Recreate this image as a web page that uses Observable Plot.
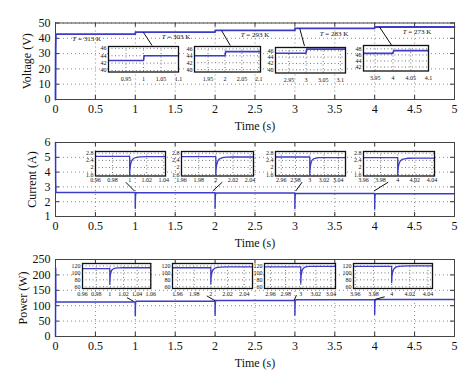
<!DOCTYPE html>
<html><head><meta charset="utf-8">
<script src="https://cdn.jsdelivr.net/npm/d3@7"></script>
<script src="https://cdn.jsdelivr.net/npm/@observablehq/plot@0.6"></script>
<style>
body{margin:0;background:#fff;}
#wrap{position:relative;width:474px;height:386px;overflow:hidden;background:#fff;font-family:"Liberation Serif",serif;}
#wrap svg{position:absolute;overflow:visible;background:none;}
#wrap svg, #wrap svg text{font-family:"Liberation Serif","Times New Roman",serif !important;}
</style></head><body><div id="wrap"></div>
<script>
// ---------- data ----------
const xTicksMain = [0, 0.5, 1, 1.5, 2, 2.5, 3, 3.5, 4, 4.5, 5];
const voltageTicks = [0, 10, 20, 30, 40, 50];
const currentTicks = [1, 2, 3, 4, 5, 6];
const powerTicks = [0, 50, 100, 150, 200, 250];

const stepTimes = [1, 2, 3, 4];
const temperatures = ["313", "303", "293", "283", "273"];
const tempLabelT = [0.39, 1.51, 2.5, 3.49, 4.53];
const tempLabelV = [39.7, 41.2, 42.0, 43.3, 44.6];

const voltageLevels = [42.7, 44.0, 45.2, 46.5, 47.4];
const currentLevels = [2.63, 2.61, 2.59, 2.56, 2.53];
const powerLevels = [112.3, 114.8, 117.1, 119.0, 119.9];

const startT = [0, 0.002, 0.005];
const voltageStart = [0, 30, 42.7];
const currentStart = [6.0, 3.5, 2.63];
const powerStart = [0, 222, 112.3];

const voltageStepOffsets = [0.002];
const voltageSteps = [[44.0], [45.2], [46.5], [47.4]];

const dipOffsets = [0, 0.0003, 0.001, 0.002, 0.003, 0.005, 0.008, 0.012, 0.02];
const currentDips = [
  [1.55, 1.86, 2.15, 2.33, 2.43, 2.52, 2.57, 2.60, 2.61],
  [1.55, 1.85, 2.14, 2.32, 2.42, 2.50, 2.55, 2.58, 2.59],
  [1.54, 1.84, 2.12, 2.30, 2.40, 2.48, 2.52, 2.55, 2.56],
  [1.50, 1.82, 2.10, 2.27, 2.37, 2.45, 2.49, 2.52, 2.53]
];
const powerDips = [
  [67, 84, 96, 104, 108, 111.5, 113.5, 114.4, 114.8],
  [69, 86, 98, 106, 110, 114, 116, 116.8, 117.1],
  [70, 88, 100, 108, 112, 116, 118, 118.7, 119.0],
  [72, 89, 101, 109, 113, 117, 119, 119.6, 119.9]
];

// connectors (main-data units)
const voltLinkT1 = [1.1, 2.08, 3.06, 4.06];
const voltLinkV1 = [44.0, 45.2, 46.5, 47.4];
const voltLinkT2 = [1.21, 2.19, 3.12, 4.21];
const voltLinkV2 = [35.3, 35.3, 35.0, 35.6];
const currLinkT1 = [0.99, 1.97, 3.01, 3.99];
const currLinkI1 = [2.72, 2.72, 2.72, 2.72];
const currLinkT2 = [0.88, 2.09, 3.09, 4.17];
const currLinkI2 = [3.32, 3.32, 3.32, 3.32];
const powLinkT1 = [0.98, 2.0, 2.99, 4.0];
const powLinkP1 = [114, 116, 118, 120];
const powLinkT2 = [0.896, 1.896, 3.02, 4.125];
const powLinkP2 = [126, 132, 134, 129];

// insets
const voltInsetX = [[0.9, 1.1], [1.91, 2.105], [2.911, 3.115], [3.917, 4.1]];
const voltInsetY = [[39.6, 46.5], [39.3, 46.7], [39, 47], [40.7, 49.1]];
const voltInsetXTicks = [[0.95, 1, 1.05, 1.1], [1.95, 2, 2.05, 2.1], [2.95, 3, 3.05, 3.1], [3.95, 4, 4.05, 4.1]];
const voltInsetYTicks = [[40, 42, 44, 46], [40, 42, 44, 46], [40, 42, 44, 46], [42, 44, 46, 48]];

const currInsetX = [[0.96, 1.042], [1.96, 2.044], [2.952, 3.05], [3.96, 4.043]];
const currInsetY = [1.52, 2.9];
const currInsetXTicks = [[0.96, 0.98, 1, 1.02, 1.04], [1.96, 1.98, 2, 2.02, 2.04], [2.96, 2.98, 3, 3.02, 3.04], [3.96, 3.98, 4, 4.02, 4.04]];
const currInsetYTicks = [1.6, 2, 2.4, 2.8];

const powInsetX = [[0.96, 1.06], [1.954, 2.05], [2.952, 3.046], [3.958, 4.045]];
const powInsetY = [55, 127];
const powInsetXTicks = [[0.96, 0.98, 1, 1.02, 1.04, 1.06], [1.96, 1.98, 2, 2.02, 2.04], [2.96, 2.98, 3, 3.02, 3.04], [3.96, 3.98, 4, 4.02, 4.04]];
const powInsetYTicks = [60, 80, 100, 120];

// ---------- layout / style ----------
const BLUE = "#3c3cc8";
const FONT = "'Liberation Serif', 'Times New Roman', serif";
const voltBoxes = [[108, 45.5, 70, 25.5], [194, 45.5, 66, 25.5], [275, 46.5, 70, 25.5], [363, 44.5, 65, 25.5]];
const currBoxes = [[95, 150.5, 70, 24.5], [181, 150.5, 72, 24.5], [275, 150.5, 70, 24.5], [363, 150.5, 71, 24.5]];
const powBoxes = [[81.7, 263, 68.3, 25], [172, 263, 80, 25], [264, 263, 71, 25], [352.7, 263, 79, 25]];

function buildSeries(start, levels, offsets, transitions) {
  const pts = startT.map((t, i) => ({t, v: start[i]}));
  stepTimes.forEach((k, i) => {
    pts.push({t: k, v: levels[i]});
    offsets.forEach((o, j) => pts.push({t: k + o, v: transitions[i][j]}));
  });
  pts.push({t: 5, v: levels[levels.length - 1]});
  return pts;
}
const voltageSeries = buildSeries(voltageStart, voltageLevels, voltageStepOffsets, voltageSteps);
const currentSeries = buildSeries(currentStart, currentLevels, dipOffsets, currentDips);
const powerSeries = buildSeries(powerStart, powerLevels, dipOffsets, powerDips);

const wrap = document.getElementById("wrap");

function mainPanel(o) {
  const ml = 55, mr = 20;
  const plotH = o.height - o.marginTop - o.marginBottom;
  const plotW = 474 - ml - mr;
  const dots = {stroke: "#8c8c8c", strokeOpacity: 1, strokeDasharray: "1,3"};
  const svg = Plot.plot({
    width: 474, height: o.height,
    marginLeft: ml, marginRight: mr, marginTop: o.marginTop, marginBottom: o.marginBottom,
    style: {background: "none", fontFamily: FONT, fontSize: "12px", color: "#111", overflow: "visible"},
    x: {domain: [0, 5]},
    y: {domain: o.yDomain},
    marks: [
      Plot.gridX(xTicksMain, dots),
      Plot.gridY(o.yTicks, dots),
      Plot.ruleX(xTicksMain, {x: d => d, insetTop: plotH - 4, stroke: "#333"}),
      Plot.ruleX(xTicksMain, {x: d => d, insetBottom: plotH - 4, stroke: "#333"}),
      Plot.ruleY(o.yTicks, {y: d => d, insetRight: plotW - 4, stroke: "#333"}),
      Plot.ruleY(o.yTicks, {y: d => d, insetLeft: plotW - 4, stroke: "#333"}),
      ...(o.before || []),
      Plot.line(o.series, {x: "t", y: "v", stroke: BLUE, strokeWidth: o.sw}),
      Plot.link(o.links, {x1: "x1", y1: "y1", x2: "x2", y2: "y2", stroke: "#111", strokeWidth: 1}),
      Plot.frame({stroke: "#444"}),
      Plot.axisX({ticks: xTicksMain, tickSize: 0, tickPadding: 5, tickFormat: d => String(d),
        label: "Time (s)", labelAnchor: "center", labelOffset: 30, labelArrow: "none"}),
      Plot.axisY({ticks: o.yTicks, tickSize: 0, tickPadding: 5, tickFormat: d => String(d),
        label: o.label, labelAnchor: "center", labelOffset: o.labelOffset, labelArrow: "none"})
    ]
  });
  svg.style.left = "0px";
  svg.style.top = o.top + "px";
  wrap.appendChild(svg);
  return svg;
}

function insetPanel(o) {
  const ml = 18, mr = 8, mt = 4, mb = 12;
  const [bx, by, bw, bh] = o.box;
  const dots = {stroke: "#777", strokeOpacity: 1, strokeDasharray: "1,2.5"};
  const svg = Plot.plot({
    width: bw + ml + mr, height: bh + mt + mb,
    marginLeft: ml, marginRight: mr, marginTop: mt, marginBottom: mb,
    style: {background: "none", fontFamily: FONT, fontSize: "6px", color: "#111", overflow: "visible"},
    x: {domain: o.xDomain},
    y: {domain: o.yDomain},
    marks: [
      Plot.frame({fill: "white", stroke: "none"}),
      Plot.gridX(o.xTicks, dots),
      Plot.gridY(o.yTicks, dots),
      Plot.line(o.series, {x: "t", y: "v", stroke: BLUE, strokeWidth: o.sw, clip: true}),
      Plot.frame({stroke: "#111", strokeWidth: 1.3}),
      Plot.axisX({ticks: o.xTicks, tickSize: 0, tickPadding: o.xPad, tickFormat: d => String(d), label: null}),
      Plot.axisY({ticks: o.yTicks, tickSize: 0, tickPadding: 2, tickFormat: d => String(d), label: null})
    ]
  });
  svg.style.left = (bx - ml) + "px";
  svg.style.top = (by - mt) + "px";
  wrap.appendChild(svg);
}

const zip4 = (a, b, c, d) => a.map((_, i) => ({x1: a[i], y1: b[i], x2: c[i], y2: d[i]}));

// Voltage panel
const tempData = temperatures.map((T, i) => ({T, t: tempLabelT[i], v: tempLabelV[i]}));
const vsvg = mainPanel({
  top: 0, height: 130, marginTop: 22.5, marginBottom: 31,
  yDomain: [0, 50], yTicks: voltageTicks, label: "Voltage (V)", labelOffset: 33,
  series: voltageSeries, sw: 1.8,
  links: zip4(voltLinkT1, voltLinkV1, voltLinkT2, voltLinkV2),
  before: [Plot.text(tempData, {x: "t", y: "v", text: d => `T = ${d.T} K`, fontSize: 7, fill: "#111"})]
});
// italic T
vsvg.querySelectorAll("text").forEach(el => {
  const s = el.textContent;
  if (s.startsWith("T = ")) {
    el.textContent = "";
    const ns = "http://www.w3.org/2000/svg";
    const a = document.createElementNS(ns, "tspan");
    a.setAttribute("font-style", "italic"); a.textContent = "T";
    const b = document.createElementNS(ns, "tspan");
    b.textContent = s.slice(1);
    el.appendChild(a); el.appendChild(b);
  }
});

// Current panel
mainPanel({
  top: 130, height: 120, marginTop: 12, marginBottom: 34,
  yDomain: [1, 6], yTicks: currentTicks, label: "Current (A)", labelOffset: 28,
  series: currentSeries, sw: 1.5,
  links: zip4(currLinkT1, currLinkI1, currLinkT2, currLinkI2)
});

// Power panel
mainPanel({
  top: 250, height: 136, marginTop: 9, marginBottom: 50,
  yDomain: [0, 250], yTicks: powerTicks, label: "Power (W)", labelOffset: 37.5,
  series: powerSeries, sw: 1.5,
  links: zip4(powLinkT1, powLinkP1, powLinkT2, powLinkP2)
});

// insets
stepTimes.forEach((k, i) => {
  insetPanel({box: voltBoxes[i], xDomain: voltInsetX[i], yDomain: voltInsetY[i],
    xTicks: voltInsetXTicks[i], yTicks: voltInsetYTicks[i], series: voltageSeries, sw: 1.6, xPad: 5});
  insetPanel({box: currBoxes[i], xDomain: currInsetX[i], yDomain: currInsetY,
    xTicks: currInsetXTicks[i], yTicks: currInsetYTicks, series: currentSeries, sw: 1.3, xPad: 1.5});
  insetPanel({box: powBoxes[i], xDomain: powInsetX[i], yDomain: powInsetY,
    xTicks: powInsetXTicks[i], yTicks: powInsetYTicks, series: powerSeries, sw: 1.3, xPad: 3});
});
</script></body></html>
